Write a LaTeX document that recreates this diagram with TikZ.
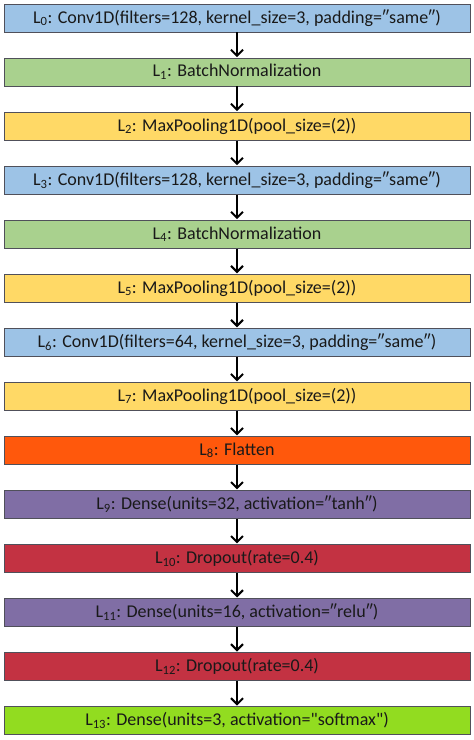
\documentclass[tikz,border=0pt]{standalone}
\usepackage{fontspec}
\setmainfont{Carlito}
\usetikzlibrary{arrows.meta}
\definecolor{cblue}{RGB}{157,195,230}
\definecolor{cgreen}{RGB}{169,209,142}
\definecolor{cyellow}{RGB}{255,217,102}
\definecolor{corange}{RGB}{255,88,12}
\definecolor{cpurple}{RGB}{128,110,165}
\definecolor{cred}{RGB}{195,50,66}
\definecolor{clime}{RGB}{146,220,32}
\definecolor{cborder}{RGB}{80,80,90}
\tikzset{
  layer/.style={draw=cborder, line width=0.9pt, minimum width=466pt, minimum height=28pt, inner sep=0pt, font=\fontsize{18}{20}\selectfont, text=black!90},
  flow/.style={line width=2pt, -{Straight Barb[length=6pt,width=12pt,line width=2pt]}, shorten >=0.5pt}
}
\newcommand{\Lsub}[1]{L\textsubscript{#1}}
\begin{document}
\begin{tikzpicture}[x=1pt,y=-1pt]
\useasboundingbox (0,0) rectangle (474,740);
\def\p{54.04}
\node[layer, fill=cblue]   (l0)  at (237,{18+0*\p})  {\Lsub{0}: Conv1D(filters=128, kernel\_size=3, padding=″same″)};
\node[layer, fill=cgreen]  (l1)  at (237,{18+1*\p})  {\Lsub{1}: BatchNormalization};
\node[layer, fill=cyellow] (l2)  at (237,{18+2*\p})  {\Lsub{2}: MaxPooling1D(pool\_size=(2))};
\node[layer, fill=cblue]   (l3)  at (237,{18+3*\p})  {\Lsub{3}: Conv1D(filters=128, kernel\_size=3, padding=″same″)};
\node[layer, fill=cgreen]  (l4)  at (237,{18+4*\p})  {\Lsub{4}: BatchNormalization};
\node[layer, fill=cyellow] (l5)  at (237,{18+5*\p})  {\Lsub{5}: MaxPooling1D(pool\_size=(2))};
\node[layer, fill=cblue]   (l6)  at (237,{18+6*\p})  {\Lsub{6}: Conv1D(filters=64, kernel\_size=3, padding=″same″)};
\node[layer, fill=cyellow] (l7)  at (237,{18+7*\p})  {\Lsub{7}: MaxPooling1D(pool\_size=(2))};
\node[layer, fill=corange] (l8)  at (237,{18+8*\p})  {\Lsub{8}: Flatten};
\node[layer, fill=cpurple] (l9)  at (237,{18+9*\p})  {\Lsub{9}: Dense(units=32, activation=″tanh″)};
\node[layer, fill=cred]    (l10) at (237,{18+10*\p}) {\Lsub{10}: Dropout(rate=0.4)};
\node[layer, fill=cpurple] (l11) at (237,{18+11*\p}) {\Lsub{11}: Dense(units=16, activation=″relu″)};
\node[layer, fill=cred]    (l12) at (237,{18+12*\p}) {\Lsub{12}: Dropout(rate=0.4)};
\node[layer, fill=clime]   (l13) at (237,{18+13*\p}) {\Lsub{13}: Dense(units=3, activation=\textquotedbl softmax\textquotedbl)};
\foreach \a/\b in {l0/l1,l1/l2,l2/l3,l3/l4,l4/l5,l5/l6,l6/l7,l7/l8,l8/l9,l9/l10,l10/l11,l11/l12,l12/l13}
  \draw[flow] (\a.south) -- (\b.north);
\end{tikzpicture}
\end{document}
